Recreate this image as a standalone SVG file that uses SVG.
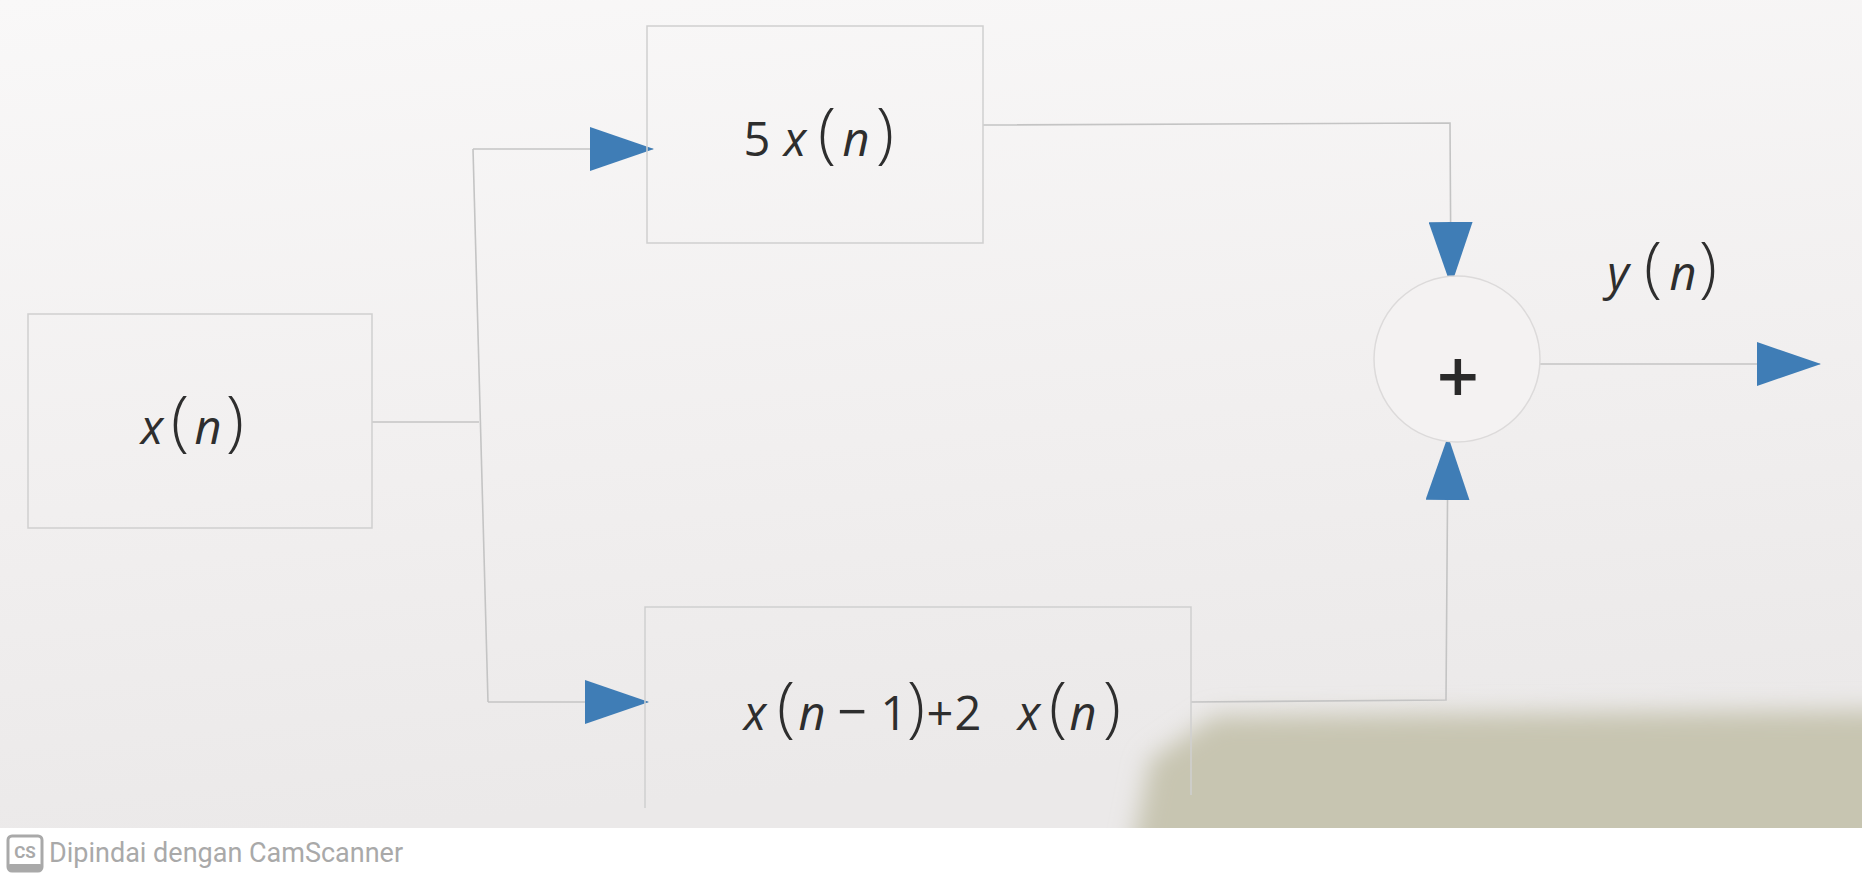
<svg xmlns="http://www.w3.org/2000/svg" width="1862" height="878" viewBox="0 0 1862 878">
  <defs>
    <linearGradient id="paper" x1="0" y1="0" x2="0.2" y2="1">
      <stop offset="0" stop-color="#f9f8f8"/>
      <stop offset="0.6" stop-color="#f1efef"/>
      <stop offset="1" stop-color="#ebe9e9"/>
    </linearGradient>
    <filter id="blur" filterUnits="userSpaceOnUse" x="1000" y="640" width="960" height="280">
      <feGaussianBlur stdDeviation="12"/>
    </filter>
    <marker id="arr" markerUnits="userSpaceOnUse" markerWidth="64" markerHeight="44" refX="63" refY="22" orient="auto">
      <path d="M0,0 L64,22 L0,44 Z" fill="#3f7db6"/>
    </marker>
    <style>
      .box { fill: none; stroke: #cfcfcf; stroke-width: 1.5; }
      .wire { fill: none; stroke: #c4c4c4; stroke-width: 1.6; }
      .math { font-family: "Open Sans", "Noto Sans", sans-serif; fill: #2e2e2e; font-size: 47px; text-anchor: middle; }
      .it { font-style: italic; }
      .par { font-size: 66px; font-weight: 300; }
      .op { font-size: 52px; }
      .footer { font-family: Roboto, "Noto Sans", sans-serif; fill: #a9a9a9; }
    </style>
  </defs>

  <!-- background paper -->
  <rect x="0" y="0" width="1862" height="878" fill="#ffffff"/>
  <rect x="0" y="0" width="1862" height="828" fill="url(#paper)"/>
  <polygon points="1215,716 1900,710 1900,860 1130,860 1150,760" fill="#c7c5b1" filter="url(#blur)"/>
  <rect x="0" y="828" width="1862" height="50" fill="#ffffff"/>

  <!-- connectors -->
  <g id="connectors">
    <path class="wire" d="M372,422 L479,422"/>
    <path class="wire" d="M473,149 L488,702"/>
    <path class="wire" d="M473,149 L653,149" marker-end="url(#arr)"/>
    <path class="wire" d="M488,702 L648,702" marker-end="url(#arr)"/>
    <path class="wire" d="M983,125 L1450,123 L1451,285" marker-end="url(#arr)"/>
    <path class="wire" d="M1191,702 L1446,700 L1448,437" marker-end="url(#arr)"/>
    <path class="wire" d="M1540,364 L1820,364" marker-end="url(#arr)"/>
  </g>

  <!-- input node -->
  <g id="node-input">
    <rect class="box" x="28" y="314" width="344" height="214"/>
    <text class="math" y="444"><tspan class="it" x="152">x</tspan><tspan class="par" x="180">(</tspan><tspan class="it" x="208">n</tspan><tspan class="par" x="235">)</tspan></text>
  </g>

  <!-- top block -->
  <g id="node-gain">
    <rect class="box" x="647" y="26" width="336" height="217"/>
    <text class="math" y="156"><tspan x="757">5</tspan><tspan class="it" x="795">x</tspan><tspan class="par" x="827">(</tspan><tspan class="it" x="856">n</tspan><tspan class="par" x="885">)</tspan></text>
  </g>

  <!-- bottom block -->
  <g id="node-sum-expr">
    <path class="box" d="M645,808 L645,607 L1191,607 L1191,795"/>
    <text class="math" y="730"><tspan class="it" x="755">x</tspan><tspan class="par" x="786">(</tspan><tspan class="it" x="812">n</tspan><tspan class="op" x="852">−</tspan><tspan x="894">1</tspan><tspan class="par" x="916">)</tspan><tspan x="940">+</tspan><tspan x="968">2</tspan><tspan class="it" x="1029">x</tspan><tspan class="par" x="1058">(</tspan><tspan class="it" x="1083">n</tspan><tspan class="par" x="1112">)</tspan></text>
  </g>

  <!-- summing junction -->
  <g id="node-adder">
    <circle cx="1457" cy="359" r="83" fill="#f4f2f2" stroke="#dcdada" stroke-width="1.5"/>
    <text x="1458" y="403" font-family="'Open Sans', 'Noto Sans', sans-serif" font-size="74" font-weight="600" fill="#2a2a2a" text-anchor="middle">+</text>
  </g>

  <!-- output label -->
  <g id="label-output">
    <text class="math" y="290"><tspan class="it" x="1618">y</tspan><tspan class="par" x="1653">(</tspan><tspan class="it" x="1683">n</tspan><tspan class="par" x="1708">)</tspan></text>
  </g>

  <!-- scanner footer -->
  <g id="footer">
    <rect x="8" y="836" width="34" height="35" rx="4" fill="none" stroke="#a9a9a9" stroke-width="3"/>
    <rect x="8" y="864" width="34" height="7" rx="2" fill="#a9a9a9"/>
    <text class="footer" x="25" y="858" font-size="17" font-weight="700" text-anchor="middle">CS</text>
    <text class="footer" x="49" y="862" font-size="27">Dipindai dengan CamScanner</text>
  </g>
</svg>
